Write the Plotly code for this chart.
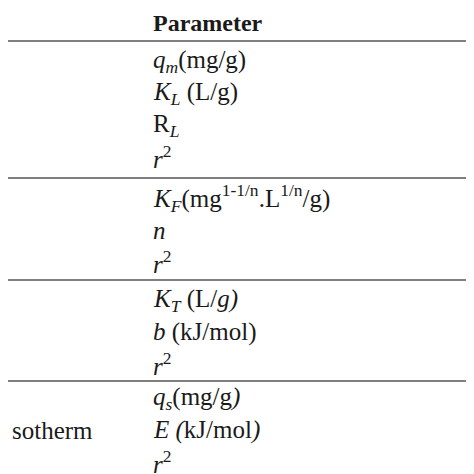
import plotly.graph_objects as go

header = "Parameter"
models = ["", "", "", "sotherm"]
params = [
    ["<i>q<sub>m</sub></i>(mg/g)", "<i>K<sub>L</sub></i> (L/g)", "R<sub><i>L</i></sub>", "<i>r</i><sup>2</sup>"],
    ["<i>K<sub>F</sub></i>(mg<sup>1-1/n</sup>.L<sup>1/n</sup>/g)", "<i>n</i>", "<i>r</i><sup>2</sup>"],
    ["<i>K<sub>T</sub> </i>(L/<i>g)</i>", "<i>b</i> (kJ/mol)", "<i>r</i><sup>2</sup>"],
    ["<i>q<sub>s</sub></i>(mg/g<i>)</i>", "<i>E</i> <i>(</i>kJ/mol<i>)</i>", "<i>r</i><sup>2</sup>"],
]

W = 474
rule_y = [33, 170, 272, 373]
pitch = 32
font = dict(family="Liberation Serif, DejaVu Serif, serif", size=25, color="#1a1a1a")

fig = go.Figure()
fig.add_trace(go.Scatter(x=[0, W], y=[0, W], mode="markers", marker=dict(opacity=0),
                         hoverinfo="skip", showlegend=False))

fig.add_annotation(x=143, y=15, text="<b>" + header + "</b>", showarrow=False,
                   xanchor="left", yanchor="middle", font=dict(font, size=24))

for g, rows in enumerate(params):
    fig.add_shape(type="line", xref="paper", x0=0, x1=1, y0=rule_y[g], y1=rule_y[g],
                  line=dict(color="#555555", width=1.5))
    off = 20 if g < 3 else 17
    for i, txt in enumerate(rows):
        y = rule_y[g] + off + i * pitch
        fig.add_annotation(x=143, y=y, text=txt, showarrow=False,
                           xanchor="left", yanchor="middle", font=font)
    if models[g]:
        fig.add_annotation(x=2, y=rule_y[g] + off + pitch, text=models[g], showarrow=False,
                           xanchor="left", yanchor="middle", font=font)

fig.update_xaxes(range=[0, W], visible=False)
fig.update_yaxes(range=[W, 0], visible=False)
fig.update_layout(width=W, height=W, margin=dict(l=0, r=0, t=0, b=0),
                  plot_bgcolor="white", paper_bgcolor="white")
fig.write_html("out.html")
